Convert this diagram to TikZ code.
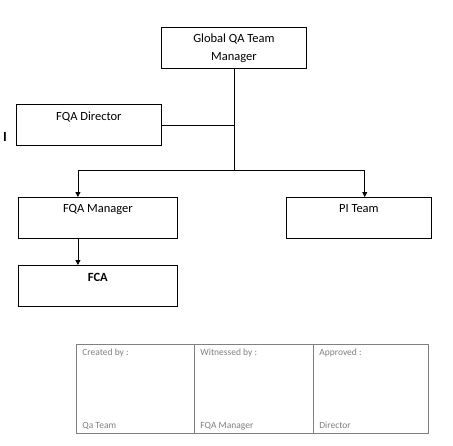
\documentclass[tikz,border=0pt]{standalone}
\usepackage{fontspec}
\setmainfont{Carlito}
\usepackage{xcolor}
\usepackage{tikz}
\usetikzlibrary{calc,arrows.meta,positioning}
\definecolor{tabgray}{RGB}{128,128,128}
\tikzset{
  orgbox/.style={draw, rectangle, anchor=north west, minimum width=145pt, minimum height=41pt, align=center, inner sep=0pt, font=\fontsize{12.5}{18}\selectfont},
  wide/.style={minimum width=159pt},
  link/.style={draw, line width=0.8pt},
  arr/.style={link, -{Triangle[length=5pt,width=5pt]}},
  cell/.style={font=\fontsize{9.5}{10}\selectfont, text=tabgray, inner sep=0pt, anchor=base west}
}
\begin{document}
\begin{tikzpicture}[x=1pt,y=-1pt, line width=0.8pt]
  \useasboundingbox (0,0) rectangle (453,445);
  % org chart
  \node[orgbox] (gm) at (161,27) {\raisebox{-3pt}{Global QA Team}\\\raisebox{-3pt}{Manager}};
  \node[orgbox] (dir) at (16,104) {FQA Director\\\mbox{}};
  \node[orgbox, wide] (mgr) at (18,197) {FQA Manager\\\mbox{}};
  \node[orgbox] (pit) at (286,197) {PI Team\\\mbox{}};
  \node[orgbox, wide] (fca) at (18,265) {\textbf{FCA}\\\mbox{}};
  \node[font=\fontsize{14}{14}\selectfont\bfseries, inner sep=0pt] (cur) at (5,137) {I};
  \coordinate (split) at (gm.south |- 0,170);
  \coordinate (join) at (gm.south |- dir.east);
  \draw[link] (gm.south) -- (split);
  \draw[link] (dir.east) -- (join);
  \draw[arr] (split) -| ($(mgr.north west)!0.375!(mgr.north east)$);
  \draw[arr] (split) -| ($(pit.north west)!0.54!(pit.north east)$);
  \draw[arr] ($(mgr.south west)!0.375!(mgr.south east)$) -- ($(fca.north west)!0.375!(fca.north east)$);
  % signature table
  \draw[tabgray] (76,344) rectangle (428,433);
  \draw[tabgray] (194,344) -- (194,433);
  \draw[tabgray] (313,344) -- (313,433);
  \node[cell] (c1) at (82,355) {Created by :};
  \node[cell] (c2) at (200,355) {Witnessed by :};
  \node[cell] (c3) at (319,355) {Approved :};
  \node[cell] (n1) at (82,428) {Qa Team};
  \node[cell] (n2) at (200,428) {FQA Manager};
  \node[cell] (n3) at (319,428) {Director};
\end{tikzpicture}
\end{document}
